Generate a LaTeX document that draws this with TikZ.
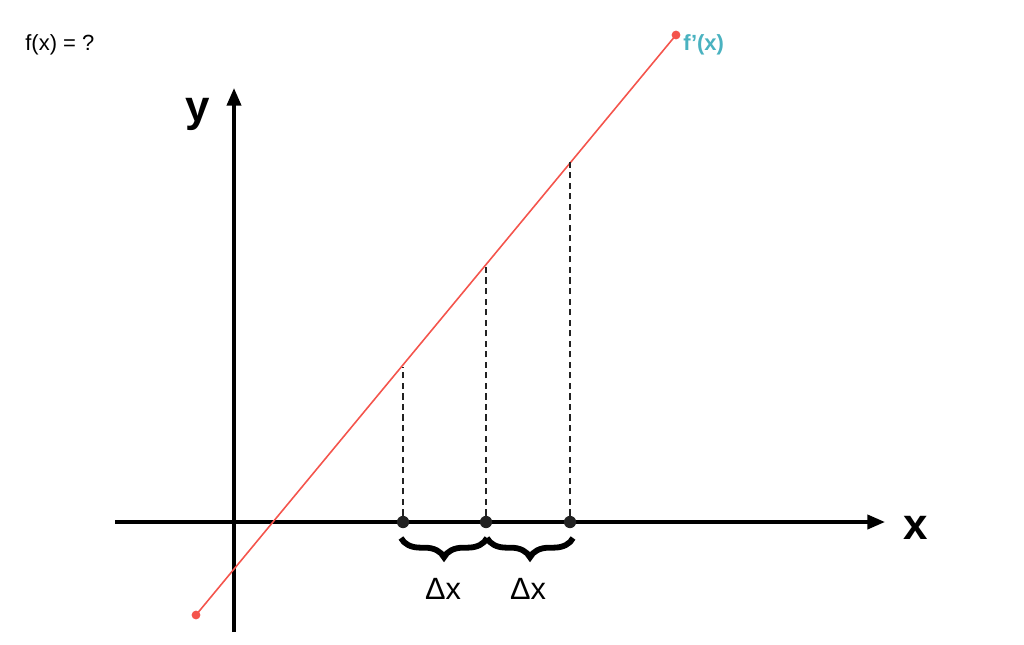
\documentclass[tikz,border=0pt]{standalone}
\usepackage{fontspec}
\setmainfont{Liberation Sans}
\usetikzlibrary{arrows.meta,decorations.pathreplacing}
\definecolor{lred}{RGB}{244,84,76}
\definecolor{lteal}{RGB}{74,178,192}
\definecolor{dotc}{RGB}{34,34,34}
\tikzset{
  axis/.style={line width=2pt,-{Triangle[length=10pt,width=8pt]}},
  dropline/.style={line width=1.4pt,dashed,dash pattern=on 3.5pt off 2.5pt,dotc},
  xdot/.style={circle,fill=dotc,inner sep=0pt,minimum size=7pt},
  rdot/.style={circle,fill=lred,inner sep=0pt,minimum size=5pt},
  bracestyle/.style={line width=3.3pt,decorate,decoration={brace,mirror,amplitude=11pt}},
  lbl/.style={inner sep=0pt}
}
\begin{document}
\begin{tikzpicture}[x=0.02cm,y=-0.02cm]
\useasboundingbox (0,0) rectangle (1024,645);
% axes
\coordinate (xs) at (115,522);
\coordinate (xe) at (885,522);
\coordinate (ys) at (234,632);
\coordinate (ye) at (234,88);
\draw[axis] (xs) -- (xe);
\draw[axis] (ys) -- (ye);
\node[lbl,font=\bfseries\fontsize{25}{25}\selectfont,anchor=base] (ylbl) at (198,122) {y};
\node[lbl,font=\bfseries\fontsize{25}{25}\selectfont,anchor=base] (xlbl) at (916,539) {x};
% red line
\node[rdot] (r1) at (196,615) {};
\node[rdot] (r2) at (676,35) {};
\draw[lred,line width=0.9pt] (r1.center) -- (r2.center);
\node[lbl,font=\bfseries\fontsize{12.5}{13}\selectfont,text=lteal,anchor=west] (fp) at (683,45) {f’(x)};
% top-left label
\node[lbl,font=\fontsize{12.5}{13}\selectfont,anchor=west] (fq) at (25,45) {f(x) = ?};
% points
\node[xdot] (p1) at (403,522) {};
\node[xdot] (p2) at (486,522) {};
\node[xdot] (p3) at (570,522) {};
\coordinate (q1) at (403,367);
\coordinate (q2) at (486,266);
\coordinate (q3) at (570,162);
\draw[dropline] (p1) -- (q1);
\draw[dropline] (p2) -- (q2);
\draw[dropline] (p3) -- (q3);
% braces
\coordinate (b1) at (401,538);
\coordinate (b2) at (487,538);
\coordinate (b3) at (573,538);
\draw[bracestyle] (b1) -- (b2);
\draw[bracestyle] (b2) -- (b3);
\node[lbl,font=\fontsize{17.5}{18}\selectfont,anchor=base] (d1) at (443,599) {Δx};
\node[lbl,font=\fontsize{17.5}{18}\selectfont,anchor=base] (d2) at (528,599) {Δx};
\end{tikzpicture}
\end{document}
